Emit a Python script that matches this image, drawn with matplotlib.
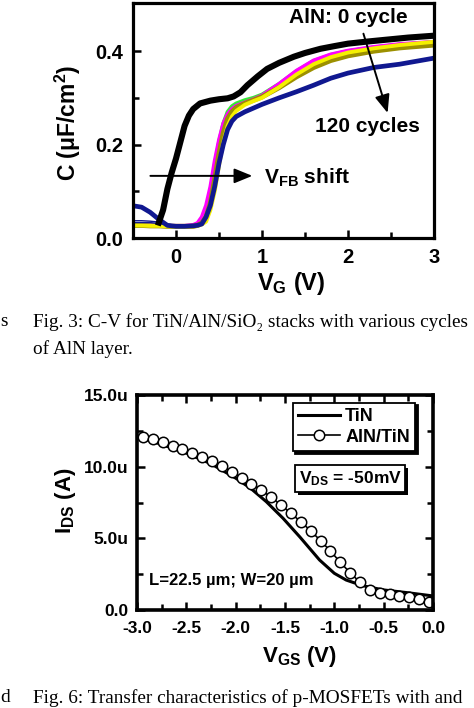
import numpy as np
import matplotlib
matplotlib.use("Agg")
import matplotlib.pyplot as plt
from matplotlib.lines import Line2D
from matplotlib.patches import Rectangle

plt.rcParams['font.family'] = ['Liberation Sans', 'DejaVu Sans']
plt.rcParams['font.weight'] = 'bold'
plt.rcParams['mathtext.fontset'] = 'custom'
plt.rcParams['mathtext.rm'] = 'Liberation Sans:bold'
plt.rcParams['mathtext.bf'] = 'Liberation Sans:bold'
plt.rcParams['mathtext.it'] = 'Liberation Sans:bold'
plt.rcParams['mathtext.default'] = 'rm'

# ---- Fig. 3 data: C-V curves (V_G in V, C in uF/cm2) ----
vg_0 = [-0.2, -0.15, -0.1, -0.05, 0.0, 0.05, 0.1, 0.15, 0.2, 0.28, 0.4, 0.5, 0.6, 0.67, 0.75, 0.83,
        0.95, 1.06, 1.2, 1.37, 1.5, 1.68, 1.85, 2.0, 2.2, 2.42, 2.7, 3.0]
c_0 = [0.033, 0.06, 0.105, 0.14, 0.17, 0.205, 0.24, 0.262, 0.276, 0.288, 0.294, 0.297, 0.299, 0.303,
       0.312, 0.327, 0.346, 0.362, 0.375, 0.388, 0.396, 0.405, 0.411, 0.416, 0.420, 0.424, 0.429, 0.433]

vg_c = [-0.5, -0.4, -0.3, -0.2, -0.1, 0.0, 0.1, 0.2, 0.25, 0.3, 0.35, 0.4, 0.45, 0.5, 0.55, 0.6, 0.65,
        0.7, 0.8, 0.9, 1.0, 1.2, 1.4, 1.6, 1.8, 2.0, 2.3, 2.6, 3.0]
c_magenta = [0.028, 0.028, 0.027, 0.027, 0.026, 0.026, 0.026, 0.028, 0.032, 0.045, 0.07, 0.11, 0.165,
             0.21, 0.245, 0.265, 0.276, 0.283, 0.290, 0.297, 0.305, 0.330, 0.358, 0.380, 0.393,
             0.401, 0.409, 0.415, 0.420]
c_green = [0.027, 0.027, 0.026, 0.026, 0.026, 0.025, 0.025, 0.026, 0.029, 0.038, 0.06, 0.10, 0.155,
           0.205, 0.245, 0.270, 0.282, 0.288, 0.295, 0.300, 0.307, 0.330, 0.357, 0.379, 0.392,
           0.400, 0.408, 0.414, 0.419]
c_red = [0.027, 0.027, 0.026, 0.026, 0.025, 0.025, 0.025, 0.026, 0.028, 0.036, 0.057, 0.096, 0.15,
         0.20, 0.24, 0.266, 0.279, 0.286, 0.293, 0.299, 0.305, 0.328, 0.355, 0.377, 0.390,
         0.399, 0.407, 0.413, 0.418]
c_cyan = [0.027, 0.027, 0.026, 0.026, 0.025, 0.025, 0.025, 0.026, 0.028, 0.035, 0.055, 0.093, 0.147,
          0.197, 0.238, 0.264, 0.277, 0.285, 0.292, 0.298, 0.305, 0.329, 0.356, 0.378, 0.392,
          0.401, 0.409, 0.415, 0.420]
c_olive = [0.027, 0.027, 0.026, 0.026, 0.025, 0.025, 0.025, 0.025, 0.027, 0.032, 0.045, 0.075, 0.125,
           0.18, 0.225, 0.255, 0.270, 0.279, 0.288, 0.295, 0.302, 0.322, 0.345, 0.365, 0.380,
           0.390, 0.400, 0.407, 0.413]
c_yellow = [0.027, 0.027, 0.026, 0.026, 0.025, 0.025, 0.025, 0.025, 0.026, 0.029, 0.035, 0.06, 0.10,
            0.155, 0.205, 0.240, 0.260, 0.272, 0.285, 0.293, 0.300, 0.323, 0.350, 0.372, 0.387,
            0.397, 0.406, 0.413, 0.420]
c_navy = [0.069, 0.066, 0.055, 0.040, 0.027, 0.025, 0.025, 0.026, 0.027, 0.030, 0.045, 0.07, 0.11,
          0.16, 0.20, 0.232, 0.250, 0.260, 0.270, 0.278, 0.286, 0.300, 0.313, 0.327, 0.342,
          0.353, 0.365, 0.372, 0.385]
vg_navy_left = [-0.5, -0.4, -0.3, -0.2, -0.1, 0.0]
c_navy_left1 = [0.037, 0.037, 0.036, 0.034, 0.030, 0.027]
c_navy_left2 = [0.033, 0.033, 0.033, 0.031, 0.028, 0.026]

# ---- Fig. 6 data: transfer characteristics (V_GS in V, I_DS in uA) ----
vgs_tin = [-3.0, -2.75, -2.5, -2.25, -2.0, -1.85, -1.69, -1.52, -1.35, -1.15, -1.0, -0.88, -0.8,
           -0.67, -0.5, -0.25, 0.0]
ids_tin = [12.1, 11.55, 10.95, 10.2, 9.2, 8.5, 7.56, 6.4, 5.1, 3.49, 2.56, 2.09, 1.9, 1.63, 1.4,
           1.2, 0.98]
vgs_aln = [-2.94, -2.84, -2.74, -2.64, -2.54, -2.44, -2.34, -2.24, -2.14, -2.04, -1.94, -1.84, -1.74,
           -1.64, -1.54, -1.44, -1.34, -1.24, -1.14, -1.04, -0.94, -0.84, -0.74, -0.64, -0.54,
           -0.44, -0.34, -0.24, -0.14, -0.04]
ids_aln = [12.09, 11.91, 11.70, 11.47, 11.23, 10.98, 10.70, 10.37, 10.05, 9.65, 9.23, 8.81, 8.37,
           7.86, 7.33, 6.74, 6.16, 5.53, 4.84, 4.12, 3.33, 2.60, 1.93, 1.40, 1.21, 1.09, 0.98,
           0.88, 0.79, 0.58]

fig = plt.figure(figsize=(4.74, 7.08), dpi=100)

# ================= Fig. 3 =================
ax1 = fig.add_axes([133/474, 1-238/708, 301/474, 235/708])
for y, col, lw in [(c_cyan, '#00e0e0', 2.0), (c_red, '#e00000', 2.0), (c_green, '#33ee33', 2.8),
                   (c_magenta, '#ff00ff', 2.8), (c_olive, '#9c9000', 3.6), (c_yellow, '#f5f000', 2.8)]:
    ax1.plot(vg_c, y, color=col, lw=lw, solid_capstyle='butt')
ax1.plot(vg_navy_left, c_navy_left1, color='#101890', lw=1.0)
ax1.plot(vg_navy_left, c_navy_left2, color='#101890', lw=1.0)
ax1.plot(vg_c, c_navy, color='#101890', lw=3.4)
ax1.plot(vg_0, c_0, color='black', lw=4.4)

ax1.set_xlim(-0.5, 3)
ax1.set_ylim(0, 0.503)
ax1.set_xticks([0, 1, 2, 3])
ax1.set_xticks([-0.5, 0.5, 1.5, 2.5], minor=True)
ax1.set_yticks([0.0, 0.2, 0.4])
ax1.set_yticklabels(['0.0', '0.2', '0.4'])
ax1.set_yticks([0.1, 0.3], minor=True)
ax1.tick_params(which='both', direction='in', width=1.8, labelsize=14.5)
ax1.tick_params(which='major', length=6)
ax1.tick_params(which='minor', length=4)
ax1.tick_params(axis='x', pad=7)
ax1.tick_params(axis='y', pad=7)
for s in ax1.spines.values():
    s.set_linewidth(2.3)

ax1.set_xlabel('V$_G$ (V)', fontsize=17, fontweight='bold')
ax1.set_ylabel('C ($\\mu$F/cm$^2$)', fontsize=16.5, fontweight='bold')
ax1.xaxis.set_label_coords(0.525, -0.135)
ax1.yaxis.set_label_coords(-0.165, 0.49)

ax1.text(2.0, 0.473, 'AlN: 0 cycle', ha='center', va='center', fontsize=15, fontweight='bold')
ax1.text(2.23, 0.239, '120 cycles', ha='center', va='center', fontsize=15, fontweight='bold')
ax1.annotate('', xy=(2.47, 0.262), xytext=(2.17, 0.443),
             arrowprops=dict(arrowstyle='-|>,head_length=1.1,head_width=0.45', color='black', lw=1.4))
ax1.annotate('', xy=(0.92, 0.133), xytext=(-0.33, 0.133),
             arrowprops=dict(arrowstyle='-|>,head_length=1.1,head_width=0.45', color='black', lw=1.4))
ax1.text(1.02, 0.128, 'V$_{FB}$ shift', ha='left', va='center', fontsize=15, fontweight='bold')

# ================= Fig. 6 =================
ax2 = fig.add_axes([137/474, 1-610/708, 296/474, 215/708])
ax2.plot(vgs_tin, ids_tin, color='black', lw=2.2)
ax2.plot(vgs_aln, ids_aln, color='black', lw=1.2, marker='o', ms=7.5, mfc='white', mec='black', mew=1.1)
ax2.set_xlim(-3.0, 0.0)
ax2.set_ylim(0, 15)
ax2.set_xticks([-3.0, -2.5, -2.0, -1.5, -1.0, -0.5, 0.0])
ax2.set_xticklabels(['-3.0', '-2.5', '-2.0', '-1.5', '-1.0', '-0.5', '0.0'])
ax2.set_xticks(np.arange(-2.75, 0, 0.5), minor=True)
ax2.set_yticks([0, 5, 10, 15])
ax2.set_yticklabels(['0.0', '5.0u', '10.0u', '15.0u'])
ax2.set_yticks([2.5, 7.5, 12.5], minor=True)
ax2.tick_params(which='both', direction='in', width=1.8, labelsize=12.5, top=True, right=True)
ax2.tick_params(which='major', length=6)
ax2.tick_params(which='minor', length=4)
ax2.tick_params(axis='x', pad=8)
ax2.tick_params(axis='y', pad=6)
for s in ax2.spines.values():
    s.set_linewidth(2.6)

ax2.set_xlabel('V$_{GS}$ (V)', fontsize=16, fontweight='bold')
ax2.set_ylabel('I$_{DS}$ (A)', fontsize=16, fontweight='bold')
ax2.xaxis.set_label_coords(0.55, -0.16)
ax2.yaxis.set_label_coords(-0.2, 0.51)

handles = [Line2D([], [], color='black', lw=2.2),
           Line2D([], [], color='black', lw=1.2, marker='o', ms=7.5, mfc='white', mec='black', mew=1.1)]
leg = ax2.legend(handles, ['TiN', 'AlN/TiN'], loc='upper right', bbox_to_anchor=(0.94, 0.965),
                 borderaxespad=0, fancybox=False, framealpha=1, edgecolor='black',
                 prop={'size': 13, 'weight': 'bold'}, handlelength=2.3, handletextpad=0.3,
                 borderpad=0.3, labelspacing=0.2,
                 shadow={'ox': 2, 'oy': -2, 'color': 'black', 'alpha': 1})
leg.get_frame().set_linewidth(1.3)

ax2.add_patch(Rectangle((0.544, 0.535), 0.371, 0.125, transform=ax2.transAxes,
                        facecolor='black', edgecolor='none', zorder=4))
ax2.add_patch(Rectangle((0.534, 0.549), 0.371, 0.125, transform=ax2.transAxes,
                        facecolor='white', edgecolor='black', lw=1.3, zorder=5))
ax2.text(0.72, 0.612, 'V$_{DS}$ = -50mV', transform=ax2.transAxes, ha='center', va='center',
         fontsize=12.5, fontweight='bold', zorder=6)
ax2.text(-2.04, 2.09, 'L=22.5 \u00b5m; W=20 \u00b5m', ha='center', va='center',
         fontsize=12, fontweight='bold')

# ================= captions =================
serif = ['Liberation Serif', 'DejaVu Serif']
fig.text(33/474, 1-322/708, 'Fig. 3: C-V for TiN/AlN/SiO\u2082 stacks with various cycles',
         family=serif, fontweight='normal', fontsize=13.9, va='center', ha='left')
fig.text(33/474, 1-349/708, 'of AlN layer.', family=serif, fontweight='normal', fontsize=13.9,
         va='center', ha='left')
fig.text(0.0, 1-322/708, 's', family=serif, fontweight='normal', fontsize=13.9, va='center', ha='left')
fig.text(33/474, 1-698/708, 'Fig. 6: Transfer characteristics of p-MOSFETs with and',
         family=serif, fontweight='normal', fontsize=13.9, va='center', ha='left')
fig.text(0.0, 1-698/708, 'd', family=serif, fontweight='normal', fontsize=13.9, va='center', ha='left')

fig.savefig('out.png', dpi=100)
